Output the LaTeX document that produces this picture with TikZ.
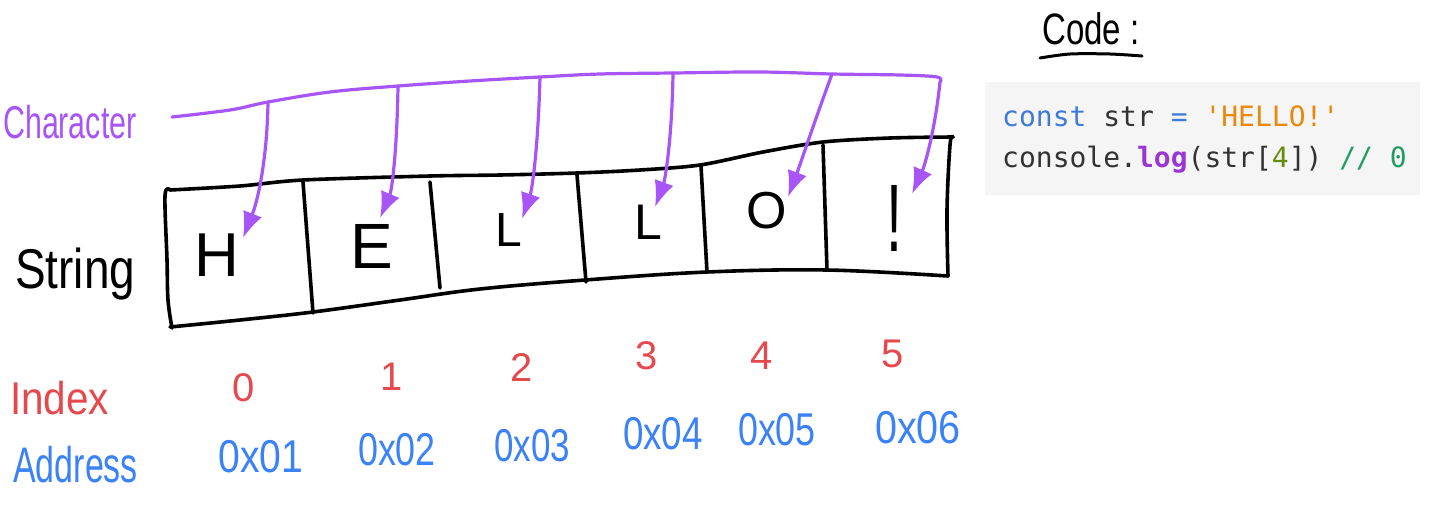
\documentclass[tikz,border=0pt]{standalone}
\usepackage{fontspec}
\setmainfont{Liberation Sans}
\newfontfamily\codefont[Ligatures=TeXOff]{DejaVu Sans Mono}
\usetikzlibrary{arrows.meta}
\definecolor{pur}{HTML}{A855F7}
\definecolor{idxred}{HTML}{E5484D}
\definecolor{addrblue}{HTML}{3B82F6}
\definecolor{kwblue}{HTML}{3E7AD6}
\definecolor{codegray}{HTML}{333333}
\definecolor{strorange}{HTML}{E8890C}
\definecolor{logpurple}{HTML}{9A36D1}
\definecolor{numolive}{HTML}{6C8A0A}
\definecolor{cmtgreen}{HTML}{1F9D63}
\definecolor{codebg}{HTML}{F5F5F5}
\newcommand{\hwsq}[2]{\scalebox{#1}[1]{#2}}
\tikzset{
  boxline/.style={line width=3.6pt, black, line cap=round, line join=round},
  pline/.style={line width=3.2pt, pur, line cap=round, line join=round},
  parrow/.style={pline, -{Latex[length=26pt,width=20pt]}},
  cell/.style={inner sep=0pt, black},
  idx/.style={inner sep=0pt, idxred, font=\fontsize{40}{40}\selectfont},
  addr/.style={inner sep=0pt, addrblue, font=\fontsize{46}{46}\selectfont},
  codeline/.style={inner sep=0pt, anchor=base west, codegray, font=\codefont\fontsize{28}{28}\selectfont},
}
\begin{document}
\begin{tikzpicture}[x=1pt,y=-1pt]
\useasboundingbox (0,0) rectangle (1434,515);
\fill[white] (0,0) rectangle (1434,515);

% labels on the left
\node[inner sep=0pt, anchor=base west, pur, font=\fontsize{46}{46}\selectfont] (charlbl) at (3,138) {\hwsq{0.66}{Character}};
\node[inner sep=0pt, anchor=base west, black, font=\fontsize{56}{56}\selectfont] (strlbl) at (15,288) {\hwsq{0.82}{String}};
\node[inner sep=0pt, anchor=base west, idxred, font=\fontsize{46}{46}\selectfont] (idxlbl) at (10,414) {\hwsq{0.88}{Index}};
\node[inner sep=0pt, anchor=base west, addrblue, font=\fontsize{50}{50}\selectfont] (addrlbl) at (13,482) {\hwsq{0.68}{Address}};

% string box
\draw[boxline] plot[smooth, tension=0.5] coordinates {(170,190) (240,186) (303,180) (430,176) (500,175) (577,173) (640,170) (700,165) (763,152) (823,142) (890,138) (953,137)};
\draw[boxline] plot[smooth, tension=0.6] coordinates {(170,327) (240,320) (313,312) (400,300) (480,289) (585,280) (707,272) (827,270) (948,276)};
\draw[boxline] plot[smooth, tension=0.6] coordinates {(170,190) (165,196) (167,260) (168,300) (172,328)};
\draw[boxline] plot[smooth, tension=0.6] coordinates {(953,137) (950,145) (947,210) (948,276)};
\draw[boxline] (303,182) -- (313,313);
\draw[boxline] (430,182) -- (440,288);
\draw[boxline] (577,175) -- (586,282);
\draw[boxline] (701,166) -- (707,272);
\draw[boxline] (823,145) -- (827,270);

% letters
\node[cell, font=\fontsize{62}{62}\selectfont] (c0) at (217,255) {H};
\node[cell, font=\fontsize{64}{64}\selectfont] (c1) at (372,246) {E};
\node[cell, font=\fontsize{48}{48}\selectfont] (c2) at (509,230) {L};
\node[cell, font=\fontsize{50}{50}\selectfont] (c3) at (648,222) {L};
\node[cell, font=\fontsize{52}{52}\selectfont] (c4) at (767,211) {O};
\node[cell, font=\fontsize{96}{96}\selectfont] (c5) at (894,218) {\hwsq{0.6}{!}};

% character pointer line
\coordinate (p0) at (172,117);
\coordinate (b0) at (268,102);
\coordinate (b1) at (398,86);
\coordinate (b2) at (540,77);
\coordinate (b3) at (673,73);
\coordinate (b4) at (832,74);
\coordinate (b5) at (940,82);
\coordinate (t0) at (243,238);
\coordinate (t1) at (380,218);
\coordinate (t2) at (522,219);
\coordinate (t3) at (655,207);
\coordinate (t4) at (788,197);
\coordinate (t5) at (912,194);
\draw[pline] plot[smooth, tension=0.6] coordinates {(p0) (230,110) (b0) (330,92) (b1) (470,81) (b2) (600,74) (b3) (760,72) (b4) (900,75) (937,77) (b5)};
\draw[parrow] (b0) .. controls (267,160) and (258,200) .. (t0);
\draw[parrow] (b1) .. controls (397,150) and (392,190) .. (t1);
\draw[parrow] (b2) .. controls (538,150) and (532,190) .. (t2);
\draw[parrow] (b3) .. controls (672,140) and (665,180) .. (t3);
\draw[parrow] (b4) .. controls (815,120) and (800,165) .. (t4);
\draw[parrow] (b5) .. controls (935,130) and (925,165) .. (t5);

% indices
\node[idx] (i0) at (244,388) {0};
\node[idx] (i1) at (392,377) {1};
\node[idx] (i2) at (522,368) {2};
\node[idx] (i3) at (647,356) {3};
\node[idx] (i4) at (762,356) {4};
\node[idx] (i5) at (893,354) {5};

% addresses
\node[addr] (a0) at (261,457) {\hwsq{0.85}{0x01}};
\node[addr] (a1) at (397,450) {\hwsq{0.78}{0x02}};
\node[addr] (a2) at (532,446) {\hwsq{0.76}{0x03}};
\node[addr] (a3) at (663,434) {\hwsq{0.8}{0x04}};
\node[addr] (a4) at (777,430) {\hwsq{0.78}{0x05}};
\node[addr] (a5) at (918,428) {\hwsq{0.86}{0x06}};

% code title
\node[inner sep=0pt, anchor=base west, black, font=\fontsize{44}{44}\selectfont] (codetitle) at (1042,44) {\hwsq{0.75}{Code :}};
\draw[line width=3pt, black, line cap=round] plot[smooth] coordinates {(1040,58) (1070,54) (1110,54) (1142,56)};

% code block
\node[fill=codebg, inner sep=0pt, minimum width=435pt, minimum height=113pt, anchor=north west] (codebox) at (985,82) {};
\node[codeline] (code1) at (1002,126) {\textcolor{kwblue}{const} str \textcolor{kwblue}{=} \textcolor{strorange}{'HELLO!'}};
\node[codeline] (code2) at (1002,167) {console.\textcolor{logpurple}{\bfseries log}(str[\textcolor{numolive}{4}]) \textcolor{cmtgreen}{// 0}};
\end{tikzpicture}
\end{document}
